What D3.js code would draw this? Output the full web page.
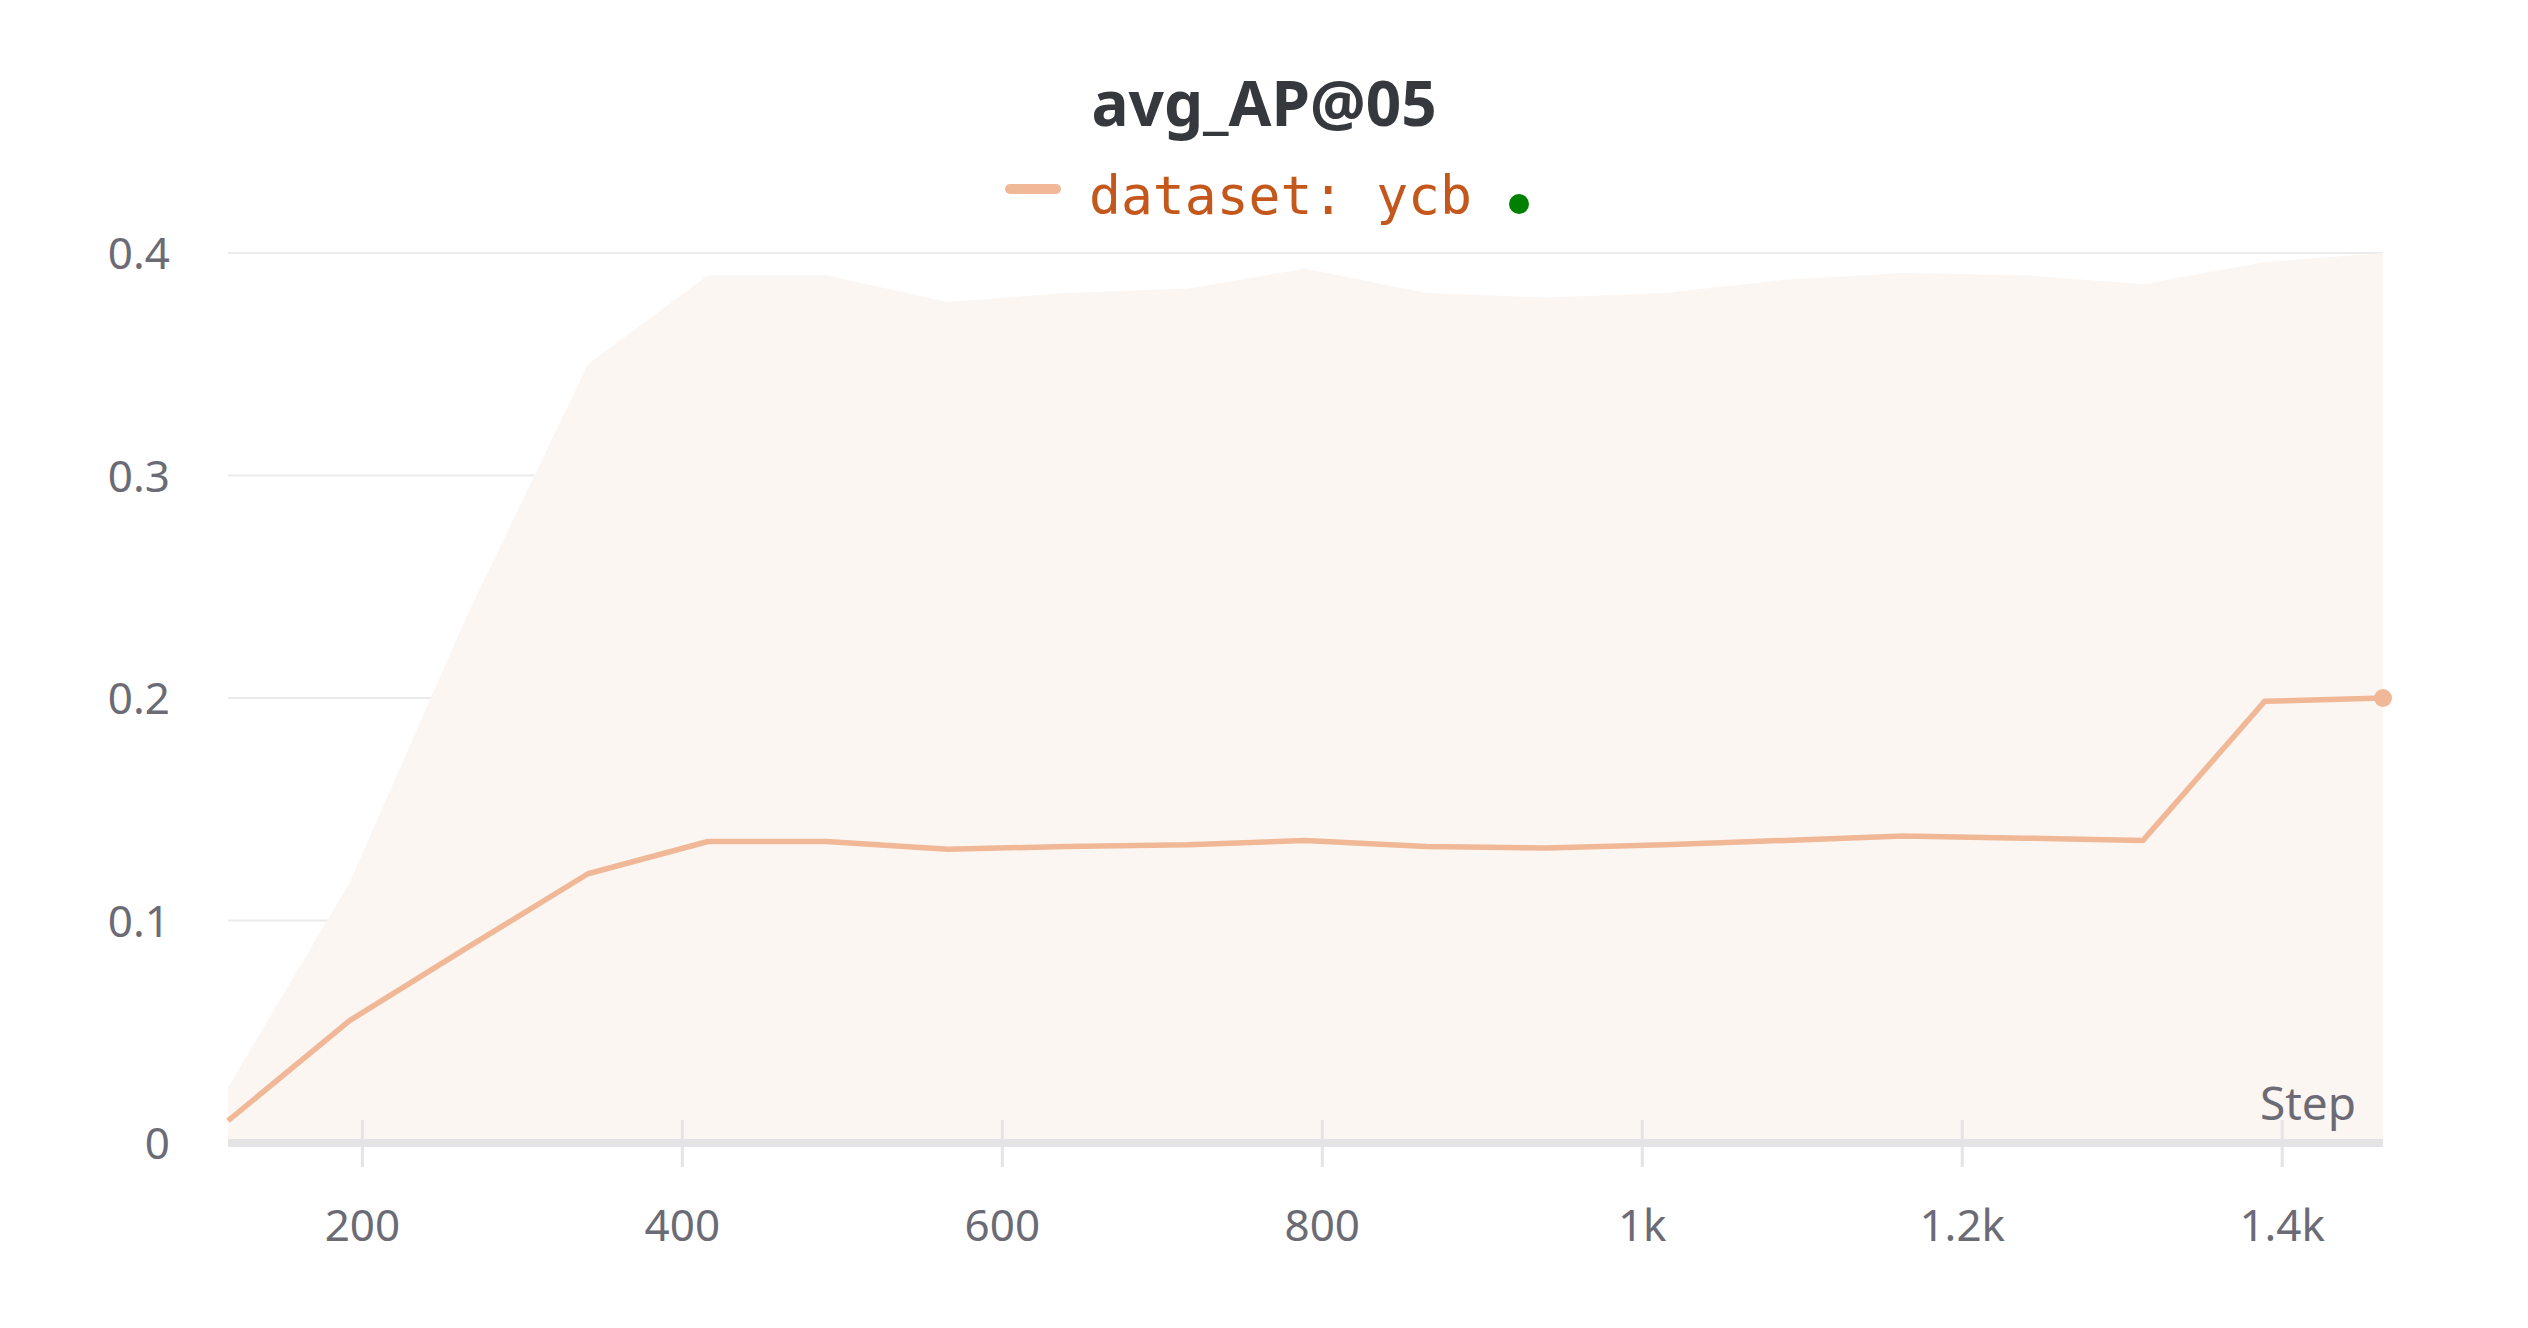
<!DOCTYPE html>
<html><head><meta charset="utf-8">
<script src="https://cdn.jsdelivr.net/npm/d3@7"></script>
<style>body{margin:0;background:#fff}</style></head>
<body><svg id="c" width="2528" height="1328"></svg>
<script>
const steps = [116,192,266,341,416,490,566,640,716,789,865,940,1014,1089,1163,1239,1313,1389,1463];
const meanVals = [0.010,0.055,0.088,0.121,0.1355,0.1355,0.132,0.1333,0.134,0.136,0.1333,0.1326,0.134,0.136,0.138,0.137,0.136,0.1985,0.200];
const upperVals = [0.025,0.117,0.238,0.350,0.390,0.390,0.378,0.382,0.384,0.393,0.382,0.380,0.382,0.388,0.391,0.390,0.386,0.396,0.400];
const lowerVals = [0,0,0,0,0,0,0,0,0,0,0,0,0,0,0,0,0,0,0];
const xTicks = [200,400,600,800,1000,1200,1400];
const xTickLabels = ["200","400","600","800","1k","1.2k","1.4k"];
const yTicks = [0,0.1,0.2,0.3,0.4];
const yTickLabels = ["0","0.1","0.2","0.3","0.4"];

const svg = d3.select("#c");
const L=228,R=2383,T=253,B=1143;
const x = d3.scaleLinear().domain([116,1463]).range([L,R]);
const y = d3.scaleLinear().domain([0,0.4]).range([B,T]);
const font = "'Source Sans Pro','Noto Sans','Open Sans',sans-serif";

svg.append("g").selectAll("line").data(yTicks.slice(1)).join("line")
  .attr("x1",L).attr("x2",R).attr("y1",d=>y(d)).attr("y2",d=>y(d))
  .attr("stroke","#ebebeb").attr("stroke-width",2);

const idx = d3.range(steps.length);
svg.append("path").datum(idx)
  .attr("d", d3.area().x(i=>x(steps[i])).y0(i=>y(lowerVals[i])).y1(i=>y(upperVals[i])))
  .attr("fill","#fcf6f3");

svg.append("line").attr("x1",L).attr("x2",R).attr("y1",B).attr("y2",B)
  .attr("stroke","#e4e4e7").attr("stroke-width",8);
svg.append("g").selectAll("line").data(xTicks).join("line")
  .attr("x1",d=>x(d)).attr("x2",d=>x(d)).attr("y1",1120).attr("y2",1167)
  .attr("stroke","#e4e4e7").attr("stroke-width",3);

svg.append("path").datum(idx)
  .attr("d", d3.line().x(i=>x(steps[i])).y(i=>y(meanVals[i])))
  .attr("fill","none").attr("stroke","#f0b896").attr("stroke-width",5.5).attr("stroke-linejoin","round");
const last = steps.length-1;
svg.append("circle").attr("cx",x(steps[last])).attr("cy",y(meanVals[last])).attr("r",9).attr("fill","#f0b896");

svg.append("g").selectAll("text").data(xTicks).join("text")
  .attr("x",d=>x(d)).attr("y",1241).attr("text-anchor","middle")
  .attr("font-family",font).attr("font-size",44).attr("fill","#6b6b76")
  .text((d,i)=>xTickLabels[i]);
svg.append("g").selectAll("text").data(yTicks).join("text")
  .attr("x",170).attr("y",d=>y(d)+16).attr("text-anchor","end")
  .attr("font-family",font).attr("font-size",44).attr("fill","#6b6b76")
  .text((d,i)=>yTickLabels[i]);
svg.append("text").attr("x",2356).attr("y",1120).attr("text-anchor","end")
  .attr("font-family",font).attr("font-size",46).attr("fill","#6b6b76").text("Step");

svg.append("text").attr("x",1264).attr("y",126).attr("text-anchor","middle")
  .attr("font-family",font).attr("font-weight","bold").attr("font-size",62).attr("fill","#35393d").text("avg_AP@05");
svg.append("line").attr("x1",1010).attr("x2",1056).attr("y1",189).attr("y2",189)
  .attr("stroke","#f0b896").attr("stroke-width",10).attr("stroke-linecap","round");
svg.append("text").attr("x",1089).attr("y",214)
  .attr("font-family","'DejaVu Sans Mono','Liberation Mono',monospace").attr("font-size",53).attr("fill","#c4571b").text("dataset: ycb");
svg.append("circle").attr("cx",1519).attr("cy",204).attr("r",10).attr("fill","#008000");
</script></body></html>
